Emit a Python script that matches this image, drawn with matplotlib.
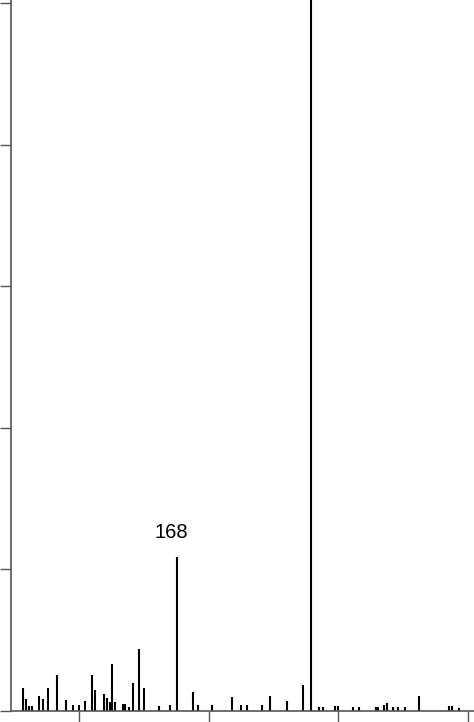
import matplotlib.pyplot as plt

# peak positions (m/z) and relative intensities (%)
mz = [108.3, 109.6, 110.8, 111.9, 114.5, 116.2, 117.9, 121.4, 125.1, 127.8,
      130.1, 132.3, 134.9, 136.2, 139.5, 140.8, 142.1, 142.8, 143.8, 147.1,
      147.8, 149.4, 150.8, 153.2, 155.2, 161.0, 165.0, 167.7, 173.8, 176.0,
      181.2, 188.9, 192.5, 194.6, 200.5, 203.5, 210.1, 216.4, 219.3, 222.6,
      223.9, 228.7, 230.0, 235.7, 238.0, 244.5, 245.4, 247.5, 248.6, 251.2,
      253.1, 255.7, 261.1, 272.8, 273.7, 276.6]
intensity = [3.2, 1.75, 0.76, 0.76, 2.1, 1.75, 3.25, 5.1, 1.55, 0.85,
             0.85, 1.47, 5.1, 2.9, 2.45, 1.9, 1.27, 6.6, 1.27, 1.0,
             1.0, 0.56, 3.95, 8.75, 3.2, 0.75, 0.85, 21.8, 2.65, 0.85,
             0.85, 1.93, 0.85, 0.85, 0.85, 2.08, 1.37, 3.67, 101.0, 0.52,
             0.61, 0.7, 0.7, 0.61, 0.52, 0.52, 0.52, 0.89, 1.09, 0.52,
             0.52, 0.52, 2.16, 0.75, 0.66, 0.38]

label_mz = 167.7
label_text = "168"
label_y = 21.8

x_ticks = [130, 180, 230, 280]
y_ticks = [0, 20, 40, 60, 80, 100]

fig = plt.figure(figsize=(4.74, 7.22), dpi=100)
ax = fig.add_axes([11 / 474, 11 / 722, 463 / 474, 711 / 722])

ax.vlines(mz, 0, intensity, color='black', linewidth=1.5)

ax.text(label_mz - 2.0, label_y + 2.1, label_text, ha='center', va='bottom',
        fontsize=14.5, family=['Liberation Sans Narrow', 'Liberation Sans', 'DejaVu Sans'])

ax.set_xlim(103.8, 282.3)
ax.set_ylim(0, 100.42)
ax.set_xticks(x_ticks)
ax.set_yticks(y_ticks)
ax.set_xticklabels([])
ax.set_yticklabels([])

for side in ['top', 'right']:
    ax.spines[side].set_visible(False)
for side in ['left', 'bottom']:
    ax.spines[side].set_color('#555555')
    ax.spines[side].set_linewidth(1.2)
ax.tick_params(axis='both', direction='out', length=8, width=1.0, color='#555555')

fig.savefig('out.png', dpi=100)
